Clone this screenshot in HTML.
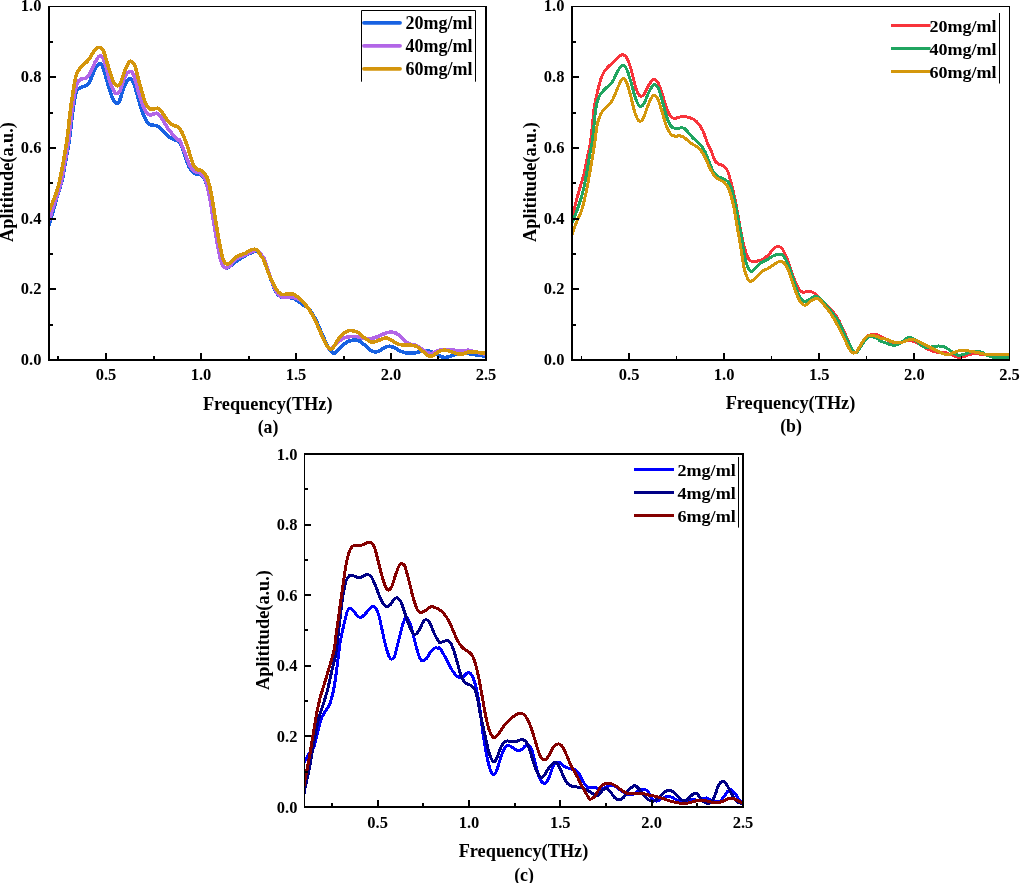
<!DOCTYPE html>
<html><head><meta charset="utf-8"><title>THz spectra</title>
<style>
html,body{margin:0;padding:0;background:#fff;}
body{width:1020px;height:883px;overflow:hidden;}
svg{display:block;}
text{font-family:"Liberation Serif", "DejaVu Serif", serif;font-weight:bold;fill:#000;}
.tk{font-size:16.5px;}
.lg{font-size:18px;}
.ax{font-size:18.3px;}
.sb{font-size:17.8px;}
</style></head><body>
<svg width="1020" height="883" viewBox="0 0 1020 883">
<rect width="1020" height="883" fill="#fff"/>
<defs>
<clipPath id="ca"><rect x="48" y="6" width="438" height="354"/></clipPath>
<clipPath id="cb"><rect x="571" y="6" width="438.5" height="354"/></clipPath>
<clipPath id="cc"><rect x="304" y="453" width="439" height="354"/></clipPath>
</defs>

<g id="plot-a">
<g clip-path="url(#ca)" fill="none" stroke-linejoin="round" stroke-linecap="butt" shape-rendering="crispEdges">
<path d="M47.00 229.00C47.44 228.06 47.97 228.72 49.67 223.33C51.36 217.94 55.08 203.89 57.17 196.67C59.25 189.44 60.78 185.83 62.17 180.00C63.56 174.17 64.31 168.33 65.50 161.67C66.69 155.00 68.17 148.06 69.33 140.00C70.50 131.94 71.42 121.11 72.50 113.33C73.58 105.56 74.72 97.50 75.83 93.33C76.94 89.17 77.64 89.58 79.17 88.33C80.69 87.08 83.33 86.81 85.00 85.83C86.67 84.86 87.50 85.28 89.17 82.50C90.83 79.72 93.25 72.31 95.00 69.17C96.75 66.03 98.28 63.81 99.67 63.67C101.06 63.53 101.75 64.22 103.33 68.33C104.92 72.44 107.50 83.06 109.17 88.33C110.83 93.61 112.14 97.56 113.33 100.00C114.53 102.44 115.36 102.72 116.33 103.00C117.31 103.28 117.86 104.39 119.17 101.67C120.47 98.94 122.64 90.33 124.17 86.67C125.69 83.00 127.22 80.92 128.33 79.67C129.44 78.42 129.86 78.42 130.83 79.17C131.81 79.92 132.78 80.42 134.17 84.17C135.56 87.92 137.50 96.25 139.17 101.67C140.83 107.08 142.50 112.92 144.17 116.67C145.83 120.42 147.50 122.72 149.17 124.17C150.83 125.61 152.64 124.92 154.17 125.33C155.69 125.75 156.81 125.61 158.33 126.67C159.86 127.72 161.53 129.92 163.33 131.67C165.14 133.42 167.22 135.78 169.17 137.17C171.11 138.56 173.19 139.11 175.00 140.00C176.81 140.89 178.47 140.28 180.00 142.50C181.53 144.72 182.64 149.25 184.17 153.33C185.69 157.42 187.50 163.67 189.17 167.00C190.83 170.33 192.50 172.14 194.17 173.33C195.83 174.53 197.42 173.19 199.17 174.17C200.92 175.14 203.00 175.69 204.67 179.17C206.33 182.64 207.72 188.19 209.17 195.00C210.61 201.81 211.94 211.67 213.33 220.00C214.72 228.33 216.11 237.78 217.50 245.00C218.89 252.22 220.28 259.50 221.67 263.33C223.06 267.17 224.44 267.50 225.83 268.00C227.22 268.50 228.33 267.39 230.00 266.33C231.67 265.28 233.33 263.42 235.83 261.67C238.33 259.92 242.36 257.36 245.00 255.83C247.64 254.31 249.67 253.25 251.67 252.50C253.67 251.75 255.11 250.50 257.00 251.33C258.89 252.17 261.72 255.92 263.00 257.50C264.28 259.08 263.42 257.36 264.67 260.83C265.92 264.31 268.56 273.06 270.50 278.33C272.44 283.61 274.53 289.39 276.33 292.50C278.14 295.61 279.06 296.14 281.33 297.00C283.61 297.86 287.72 297.31 290.00 297.67C292.28 298.03 292.78 297.94 295.00 299.17C297.22 300.39 300.97 303.33 303.33 305.00C305.69 306.67 307.08 306.67 309.17 309.17C311.25 311.67 313.61 315.69 315.83 320.00C318.06 324.31 320.42 330.42 322.50 335.00C324.58 339.58 326.53 344.44 328.33 347.50C330.14 350.56 331.67 352.92 333.33 353.33C335.00 353.75 336.39 351.67 338.33 350.00C340.28 348.33 342.78 344.94 345.00 343.33C347.22 341.72 349.44 340.83 351.67 340.33C353.89 339.83 356.94 340.14 358.33 340.33C359.72 340.52 358.81 340.59 360.00 341.47C361.19 342.34 363.66 344.10 365.49 345.59C367.32 347.07 369.26 349.31 370.98 350.39C372.70 351.46 374.18 352.08 375.78 352.04C377.38 351.99 378.87 350.96 380.59 350.12C382.30 349.27 384.48 347.60 386.08 346.96C387.68 346.32 388.59 346.04 390.19 346.27C391.80 346.50 393.85 347.46 395.68 348.33C397.51 349.20 399.12 350.69 401.17 351.49C403.23 352.29 405.75 352.91 408.04 353.13C410.32 353.36 412.61 353.20 414.90 352.86C417.19 352.52 419.93 351.49 421.76 351.08C423.59 350.66 424.28 350.28 425.88 350.39C427.48 350.50 429.54 351.08 431.37 351.76C433.20 352.45 435.03 353.64 436.86 354.51C438.69 355.38 440.75 356.52 442.35 356.98C443.95 357.44 444.87 357.48 446.47 357.25C448.07 357.02 449.90 356.25 451.96 355.61C454.02 354.96 456.30 353.78 458.82 353.41C461.34 353.04 464.54 353.23 467.05 353.41C469.57 353.59 471.63 354.14 473.92 354.51C476.20 354.87 478.49 355.33 480.78 355.61C483.07 355.88 486.50 356.06 487.64 356.15" stroke="#1862e2" stroke-width="3.60"/>
<path d="M47.00 224.00C47.44 223.06 48.06 222.89 49.67 218.33C51.28 213.78 54.67 203.06 56.67 196.67C58.67 190.28 60.28 185.83 61.67 180.00C63.06 174.17 63.83 168.33 65.00 161.67C66.17 155.00 67.56 148.06 68.67 140.00C69.78 131.94 70.61 121.39 71.67 113.33C72.72 105.28 74.03 96.81 75.00 91.67C75.97 86.53 76.53 84.58 77.50 82.50C78.47 80.42 79.44 79.92 80.83 79.17C82.22 78.42 84.31 78.97 85.83 78.00C87.36 77.03 88.33 76.19 90.00 73.33C91.67 70.47 94.17 63.75 95.83 60.83C97.50 57.92 98.61 55.83 100.00 55.83C101.39 55.83 102.50 56.53 104.17 60.83C105.83 65.14 108.33 76.53 110.00 81.67C111.67 86.81 113.06 89.72 114.17 91.67C115.28 93.61 115.69 93.47 116.67 93.33C117.64 93.19 118.61 93.61 120.00 90.83C121.39 88.06 123.47 79.86 125.00 76.67C126.53 73.47 127.78 72.08 129.17 71.67C130.56 71.25 131.81 70.83 133.33 74.17C134.86 77.50 136.67 86.25 138.33 91.67C140.00 97.08 141.81 103.00 143.33 106.67C144.86 110.33 146.25 112.28 147.50 113.67C148.75 115.06 149.31 115.06 150.83 115.00C152.36 114.94 154.86 112.78 156.67 113.33C158.47 113.89 159.72 115.69 161.67 118.33C163.61 120.97 166.39 126.39 168.33 129.17C170.28 131.94 171.67 133.19 173.33 135.00C175.00 136.81 177.22 139.03 178.33 140.00C179.44 140.97 178.89 138.61 180.00 140.83C181.11 143.06 183.33 149.17 185.00 153.33C186.67 157.50 188.33 162.78 190.00 165.83C191.67 168.89 193.33 170.47 195.00 171.67C196.67 172.86 198.33 171.75 200.00 173.00C201.67 174.25 203.47 175.50 205.00 179.17C206.53 182.83 207.78 188.19 209.17 195.00C210.56 201.81 211.94 211.67 213.33 220.00C214.72 228.33 216.11 237.78 217.50 245.00C218.89 252.22 220.28 259.50 221.67 263.33C223.06 267.17 224.44 267.58 225.83 268.00C227.22 268.42 228.33 267.31 230.00 265.83C231.67 264.36 233.33 260.97 235.83 259.17C238.33 257.36 242.36 256.25 245.00 255.00C247.64 253.75 249.58 252.36 251.67 251.67C253.75 250.97 255.56 249.86 257.50 250.83C259.44 251.81 262.08 255.83 263.33 257.50C264.58 259.17 263.75 257.36 265.00 260.83C266.25 264.31 268.89 273.06 270.83 278.33C272.78 283.61 274.86 289.39 276.67 292.50C278.47 295.61 279.44 296.22 281.67 297.00C283.89 297.78 287.50 296.94 290.00 297.17C292.50 297.39 294.72 297.72 296.67 298.33C298.61 298.94 299.72 299.17 301.67 300.83C303.61 302.50 306.11 305.14 308.33 308.33C310.56 311.53 312.78 315.56 315.00 320.00C317.22 324.44 319.58 330.56 321.67 335.00C323.75 339.44 325.97 344.31 327.50 346.67C329.03 349.03 329.31 349.72 330.83 349.17C332.36 348.61 334.58 345.14 336.67 343.33C338.75 341.53 341.11 339.44 343.33 338.33C345.56 337.22 347.78 336.94 350.00 336.67C352.22 336.39 355.00 336.55 356.67 336.67C358.33 336.78 358.30 337.01 360.00 337.35C361.70 337.69 364.57 338.61 366.86 338.72C369.15 338.84 371.44 338.61 373.72 338.04C376.01 337.47 378.30 336.21 380.59 335.29C382.87 334.38 385.39 333.05 387.45 332.55C389.51 332.04 391.11 331.93 392.94 332.27C394.77 332.62 396.60 333.30 398.43 334.61C400.26 335.91 402.09 338.56 403.92 340.10C405.75 341.63 407.35 342.89 409.41 343.80C411.47 344.72 414.21 344.72 416.27 345.59C418.33 346.46 419.93 347.87 421.76 349.02C423.59 350.16 425.65 351.72 427.25 352.45C428.85 353.18 430.00 353.52 431.37 353.41C432.74 353.29 433.89 352.38 435.49 351.76C437.09 351.14 438.92 350.05 440.98 349.70C443.04 349.36 445.32 349.59 447.84 349.70C450.36 349.82 453.33 350.28 456.07 350.39C458.82 350.50 462.02 350.39 464.31 350.39C466.60 350.39 467.97 350.12 469.80 350.39C471.63 350.66 473.46 351.53 475.29 352.04C477.12 352.54 478.72 353.04 480.78 353.41C482.84 353.78 486.50 354.10 487.64 354.23" stroke="#b266e7" stroke-width="3.60"/>
<path d="M47.00 216.00C47.36 215.14 47.56 214.89 49.17 210.83C50.78 206.78 54.72 197.64 56.67 191.67C58.61 185.69 59.72 180.00 60.83 175.00C61.94 170.00 62.31 167.50 63.33 161.67C64.36 155.83 65.89 148.06 67.00 140.00C68.11 131.94 68.94 121.67 70.00 113.33C71.06 105.00 72.36 96.11 73.33 90.00C74.31 83.89 74.94 80.00 75.83 76.67C76.72 73.33 77.42 71.94 78.67 70.00C79.92 68.06 81.72 66.67 83.33 65.00C84.94 63.33 86.39 62.50 88.33 60.00C90.28 57.50 93.19 52.08 95.00 50.00C96.81 47.92 97.78 47.36 99.17 47.50C100.56 47.64 101.81 47.64 103.33 50.83C104.86 54.03 106.67 61.53 108.33 66.67C110.00 71.81 111.94 78.56 113.33 81.67C114.72 84.78 115.56 84.92 116.67 85.33C117.78 85.75 118.61 86.72 120.00 84.17C121.39 81.61 123.47 73.69 125.00 70.00C126.53 66.31 128.11 63.39 129.17 62.00C130.22 60.61 130.36 61.03 131.33 61.67C132.31 62.31 133.56 61.94 135.00 65.83C136.44 69.72 138.33 79.03 140.00 85.00C141.67 90.97 143.47 97.78 145.00 101.67C146.53 105.56 147.78 107.08 149.17 108.33C150.56 109.58 151.94 109.17 153.33 109.17C154.72 109.17 156.11 107.92 157.50 108.33C158.89 108.75 159.86 109.44 161.67 111.67C163.47 113.89 166.39 119.39 168.33 121.67C170.28 123.94 171.81 124.50 173.33 125.33C174.86 126.17 176.11 125.61 177.50 126.67C178.89 127.72 180.00 128.33 181.67 131.67C183.33 135.00 185.69 141.53 187.50 146.67C189.31 151.81 190.97 158.75 192.50 162.50C194.03 166.25 195.14 167.78 196.67 169.17C198.19 170.56 200.00 169.58 201.67 170.83C203.33 172.08 205.14 173.19 206.67 176.67C208.19 180.14 209.44 185.00 210.83 191.67C212.22 198.33 213.61 208.33 215.00 216.67C216.39 225.00 217.78 234.44 219.17 241.67C220.56 248.89 221.94 256.25 223.33 260.00C224.72 263.75 226.11 263.89 227.50 264.17C228.89 264.44 230.14 262.92 231.67 261.67C233.19 260.42 234.44 258.06 236.67 256.67C238.89 255.28 242.50 254.50 245.00 253.33C247.50 252.17 249.72 250.22 251.67 249.67C253.61 249.11 255.00 248.83 256.67 250.00C258.33 251.17 260.56 255.14 261.67 256.67C262.78 258.19 261.94 255.83 263.33 259.17C264.72 262.50 267.78 271.53 270.00 276.67C272.22 281.81 274.72 287.08 276.67 290.00C278.61 292.92 280.00 293.47 281.67 294.17C283.33 294.86 284.72 294.17 286.67 294.17C288.61 294.17 291.11 293.33 293.33 294.17C295.56 295.00 297.50 296.81 300.00 299.17C302.50 301.53 305.83 304.86 308.33 308.33C310.83 311.81 312.78 315.56 315.00 320.00C317.22 324.44 319.58 330.56 321.67 335.00C323.75 339.44 325.89 344.31 327.50 346.67C329.11 349.03 330.08 349.44 331.33 349.17C332.58 348.89 333.56 347.08 335.00 345.00C336.44 342.92 338.06 338.94 340.00 336.67C341.94 334.39 344.44 332.31 346.67 331.33C348.89 330.36 351.25 330.50 353.33 330.83C355.42 331.17 357.14 332.02 359.17 333.33C361.19 334.65 363.29 337.25 365.49 338.72C367.69 340.19 370.06 341.93 372.35 342.15C374.64 342.38 376.93 340.78 379.21 340.10C381.50 339.41 384.02 338.04 386.08 338.04C388.14 338.04 389.74 339.14 391.57 340.10C393.40 341.06 395.23 343.00 397.06 343.80C398.89 344.60 400.49 344.72 402.55 344.90C404.61 345.08 407.12 344.67 409.41 344.90C411.70 345.13 414.21 345.36 416.27 346.27C418.33 347.19 419.93 348.90 421.76 350.39C423.59 351.88 425.65 354.23 427.25 355.19C428.85 356.15 430.00 356.38 431.37 356.15C432.74 355.93 433.89 354.74 435.49 353.82C437.09 352.91 439.15 351.24 440.98 350.66C442.81 350.09 444.64 350.16 446.47 350.39C448.30 350.62 450.13 351.46 451.96 352.04C453.79 352.61 455.62 353.52 457.45 353.82C459.28 354.12 461.11 354.12 462.94 353.82C464.77 353.52 466.37 352.33 468.43 352.04C470.49 351.74 473.23 351.90 475.29 352.04C477.35 352.17 478.72 352.63 480.78 352.86C482.84 353.09 486.50 353.32 487.64 353.41" stroke="#d4950c" stroke-width="3.60"/>
</g>
<g shape-rendering="crispEdges" fill="#000">
<rect x="48" y="6" width="2" height="355"/>
<rect x="485" y="6" width="2" height="355"/>
<rect x="48" y="6" width="439" height="1"/>
<rect x="48" y="359" width="439" height="2"/>
<rect x="50" y="324" width="3" height="2"/>
<rect x="50" y="288" width="6" height="2"/>
<rect x="50" y="253" width="3" height="2"/>
<rect x="50" y="218" width="6" height="2"/>
<rect x="50" y="182" width="3" height="2"/>
<rect x="50" y="147" width="6" height="2"/>
<rect x="50" y="112" width="3" height="2"/>
<rect x="50" y="76" width="6" height="2"/>
<rect x="50" y="41" width="3" height="2"/>
<rect x="105" y="353" width="2" height="6"/>
<rect x="200" y="353" width="2" height="6"/>
<rect x="295" y="353" width="2" height="6"/>
<rect x="390" y="353" width="2" height="6"/>
<rect x="57" y="356" width="2" height="3"/>
<rect x="153" y="356" width="2" height="3"/>
<rect x="248" y="356" width="2" height="3"/>
<rect x="343" y="356" width="2" height="3"/>
<rect x="437" y="356" width="2" height="3"/>
</g>
<text x="41.40" y="364.90" text-anchor="end" class="tk">0.0</text>
<text x="41.40" y="294.20" text-anchor="end" class="tk">0.2</text>
<text x="41.40" y="223.50" text-anchor="end" class="tk">0.4</text>
<text x="41.40" y="152.80" text-anchor="end" class="tk">0.6</text>
<text x="41.40" y="82.10" text-anchor="end" class="tk">0.8</text>
<text x="41.40" y="11.40" text-anchor="end" class="tk">1.0</text>
<text x="106.00" y="380.00" text-anchor="middle" class="tk">0.5</text>
<text x="201.00" y="380.00" text-anchor="middle" class="tk">1.0</text>
<text x="296.00" y="380.00" text-anchor="middle" class="tk">1.5</text>
<text x="391.00" y="380.00" text-anchor="middle" class="tk">2.0</text>
<text x="486.00" y="380.00" text-anchor="middle" class="tk">2.5</text>
<path d="M361.50 81.70L361.50 10.50L475.50 10.50L475.50 81.70" fill="none" stroke="#000" stroke-width="1"/>
<line x1="364.00" y1="22.80" x2="400.00" y2="22.80" stroke="#1862e2" stroke-width="3.80" stroke-linecap="round"/>
<text x="405.50" y="29.00" class="lg">20mg/ml</text>
<line x1="364.00" y1="45.80" x2="400.00" y2="45.80" stroke="#b266e7" stroke-width="3.80" stroke-linecap="round"/>
<text x="405.50" y="52.00" class="lg">40mg/ml</text>
<line x1="364.00" y1="68.80" x2="400.00" y2="68.80" stroke="#d4950c" stroke-width="3.80" stroke-linecap="round"/>
<text x="405.50" y="75.00" class="lg">60mg/ml</text>
<text x="267.7" y="409.7" text-anchor="middle" class="ax">Frequency(THz)</text>
<text x="268" y="432.8" text-anchor="middle" class="sb">(a)</text>
<text transform="translate(13,182) rotate(-90)" text-anchor="middle" class="ax">Aplititude(a.u.)</text>
</g>
<g id="plot-b">
<g clip-path="url(#cb)" fill="none" stroke-linejoin="round" stroke-linecap="butt" shape-rendering="crispEdges">
<path d="M569.50 226.00C570.00 224.31 571.03 221.28 572.50 215.83C573.97 210.39 576.39 200.42 578.33 193.33C580.28 186.25 582.64 179.44 584.17 173.33C585.69 167.22 586.39 162.22 587.50 156.67C588.61 151.11 589.72 148.06 590.83 140.00C591.94 131.94 593.06 116.39 594.17 108.33C595.28 100.28 596.39 96.53 597.50 91.67C598.61 86.81 599.72 82.50 600.83 79.17C601.94 75.83 602.92 73.75 604.17 71.67C605.42 69.58 606.53 68.47 608.33 66.67C610.14 64.86 613.06 62.64 615.00 60.83C616.94 59.03 618.67 56.86 620.00 55.83C621.33 54.81 621.89 54.39 623.00 54.67C624.11 54.94 625.36 55.22 626.67 57.50C627.97 59.78 629.44 63.75 630.83 68.33C632.22 72.92 633.75 80.69 635.00 85.00C636.25 89.31 637.28 92.28 638.33 94.17C639.39 96.06 640.36 96.33 641.33 96.33C642.31 96.33 643.00 95.92 644.17 94.17C645.33 92.42 646.94 88.19 648.33 85.83C649.72 83.47 651.44 81.11 652.50 80.00C653.56 78.89 653.69 78.61 654.67 79.17C655.64 79.72 657.03 80.69 658.33 83.33C659.64 85.97 661.11 90.83 662.50 95.00C663.89 99.17 665.28 104.72 666.67 108.33C668.06 111.94 669.44 115.00 670.83 116.67C672.22 118.33 673.47 118.28 675.00 118.33C676.53 118.39 678.33 117.28 680.00 117.00C681.67 116.72 683.06 116.44 685.00 116.67C686.94 116.89 689.72 117.50 691.67 118.33C693.61 119.17 694.86 119.72 696.67 121.67C698.47 123.61 700.69 126.39 702.50 130.00C704.31 133.61 706.11 140.00 707.50 143.33C708.89 146.67 709.58 147.08 710.83 150.00C712.08 152.92 713.61 158.47 715.00 160.83C716.39 163.19 717.78 163.33 719.17 164.17C720.56 165.00 721.94 164.72 723.33 165.83C724.72 166.94 726.11 167.64 727.50 170.83C728.89 174.03 730.28 179.58 731.67 185.00C733.06 190.42 734.44 196.39 735.83 203.33C737.22 210.28 738.61 219.44 740.00 226.67C741.39 233.89 742.78 241.39 744.17 246.67C745.56 251.94 746.94 255.83 748.33 258.33C749.72 260.83 750.83 261.25 752.50 261.67C754.17 262.08 756.81 261.11 758.33 260.83C759.86 260.56 760.00 260.97 761.67 260.00C763.33 259.03 766.25 256.94 768.33 255.00C770.42 253.06 772.50 249.78 774.17 248.33C775.83 246.89 776.94 246.19 778.33 246.33C779.72 246.47 780.97 246.89 782.50 249.17C784.03 251.44 785.69 255.42 787.50 260.00C789.31 264.58 791.53 271.94 793.33 276.67C795.14 281.39 796.81 285.78 798.33 288.33C799.86 290.89 800.83 291.44 802.50 292.00C804.17 292.56 806.53 291.58 808.33 291.67C810.14 291.75 811.39 291.39 813.33 292.50C815.28 293.61 817.50 295.97 820.00 298.33C822.50 300.69 825.56 303.61 828.33 306.67C831.11 309.72 834.17 312.78 836.67 316.67C839.17 320.56 841.25 325.56 843.33 330.00C845.42 334.44 847.50 339.72 849.17 343.33C850.83 346.94 852.08 350.28 853.33 351.67C854.58 353.06 855.28 353.06 856.67 351.67C858.06 350.28 860.00 345.83 861.67 343.33C863.33 340.83 865.00 338.11 866.67 336.67C868.33 335.22 869.72 334.94 871.67 334.67C873.61 334.39 876.94 334.78 878.33 335.00C879.72 335.22 878.81 335.36 880.00 335.98C881.19 336.60 883.43 337.58 885.49 338.72C887.55 339.87 890.06 342.15 892.35 342.84C894.64 343.53 896.70 343.23 899.21 342.84C901.73 342.45 904.70 340.62 907.45 340.51C910.19 340.39 913.17 341.19 915.68 342.15C918.20 343.12 920.03 344.90 922.55 346.27C925.06 347.64 928.27 349.36 930.78 350.39C933.30 351.42 935.36 352.11 937.64 352.45C939.93 352.79 942.68 352.22 944.51 352.45C946.34 352.68 947.02 353.25 948.62 353.82C950.23 354.39 952.51 355.31 954.11 355.88C955.72 356.45 956.63 357.14 958.23 357.25C959.83 357.37 961.89 357.02 963.72 356.57C965.55 356.11 967.15 354.96 969.21 354.51C971.27 354.05 973.79 353.82 976.07 353.82C978.36 353.82 980.65 354.28 982.94 354.51C985.22 354.74 987.05 355.01 989.80 355.19C992.54 355.38 995.75 355.54 999.41 355.61C1003.07 355.67 1009.70 355.61 1011.76 355.61" stroke="#f8343b" stroke-width="3.00"/>
<path d="M569.50 228.00C570.00 226.94 571.03 225.22 572.50 221.67C573.97 218.11 576.53 211.94 578.33 206.67C580.14 201.39 581.81 196.39 583.33 190.00C584.86 183.61 586.39 174.44 587.50 168.33C588.61 162.22 589.17 158.06 590.00 153.33C590.83 148.61 591.53 147.50 592.50 140.00C593.47 132.50 594.72 115.56 595.83 108.33C596.94 101.11 598.06 99.44 599.17 96.67C600.28 93.89 601.11 93.33 602.50 91.67C603.89 90.00 605.83 88.33 607.50 86.67C609.17 85.00 610.83 84.17 612.50 81.67C614.17 79.17 616.11 74.22 617.50 71.67C618.89 69.11 619.86 67.39 620.83 66.33C621.81 65.28 622.36 64.86 623.33 65.33C624.31 65.81 625.42 66.44 626.67 69.17C627.92 71.89 629.44 77.08 630.83 81.67C632.22 86.25 633.75 92.83 635.00 96.67C636.25 100.50 637.36 103.06 638.33 104.67C639.31 106.28 639.86 106.56 640.83 106.33C641.81 106.11 642.92 105.50 644.17 103.33C645.42 101.17 646.94 96.25 648.33 93.33C649.72 90.42 651.44 87.28 652.50 85.83C653.56 84.39 653.69 84.25 654.67 84.67C655.64 85.08 657.03 85.50 658.33 88.33C659.64 91.17 661.11 96.94 662.50 101.67C663.89 106.39 665.28 112.64 666.67 116.67C668.06 120.69 669.44 123.89 670.83 125.83C672.22 127.78 673.47 127.97 675.00 128.33C676.53 128.69 678.47 128.00 680.00 128.00C681.53 128.00 682.78 127.58 684.17 128.33C685.56 129.08 686.81 130.83 688.33 132.50C689.86 134.17 691.39 136.39 693.33 138.33C695.28 140.28 698.06 141.94 700.00 144.17C701.94 146.39 703.61 149.03 705.00 151.67C706.39 154.31 706.94 156.67 708.33 160.00C709.72 163.33 711.67 168.89 713.33 171.67C715.00 174.44 716.53 175.42 718.33 176.67C720.14 177.92 722.36 178.06 724.17 179.17C725.97 180.28 727.64 180.69 729.17 183.33C730.69 185.97 731.94 189.72 733.33 195.00C734.72 200.28 736.11 207.78 737.50 215.00C738.89 222.22 740.42 231.11 741.67 238.33C742.92 245.56 743.61 252.92 745.00 258.33C746.39 263.75 748.47 269.03 750.00 270.83C751.53 272.64 752.50 270.42 754.17 269.17C755.83 267.92 757.92 264.86 760.00 263.33C762.08 261.81 764.44 261.25 766.67 260.00C768.89 258.75 771.25 256.81 773.33 255.83C775.42 254.86 777.50 254.17 779.17 254.17C780.83 254.17 781.81 254.03 783.33 255.83C784.86 257.64 786.53 260.69 788.33 265.00C790.14 269.31 792.36 276.53 794.17 281.67C795.97 286.81 797.50 292.50 799.17 295.83C800.83 299.17 802.64 300.97 804.17 301.67C805.69 302.36 806.81 300.78 808.33 300.00C809.86 299.22 811.94 297.56 813.33 297.00C814.72 296.44 815.28 296.17 816.67 296.67C818.06 297.17 819.44 297.78 821.67 300.00C823.89 302.22 827.36 306.67 830.00 310.00C832.64 313.33 835.14 316.11 837.50 320.00C839.86 323.89 842.08 329.17 844.17 333.33C846.25 337.50 848.33 341.81 850.00 345.00C851.67 348.19 852.92 351.39 854.17 352.50C855.42 353.61 856.11 353.06 857.50 351.67C858.89 350.28 860.83 346.53 862.50 344.17C864.17 341.81 865.83 338.75 867.50 337.50C869.17 336.25 870.69 336.39 872.50 336.67C874.31 336.94 877.08 338.48 878.33 339.17C879.58 339.85 878.81 340.17 880.00 340.78C881.19 341.39 883.66 342.15 885.49 342.84C887.32 343.53 889.15 344.56 890.98 344.90C892.81 345.24 894.64 345.40 896.47 344.90C898.30 344.40 900.24 342.98 901.96 341.88C903.68 340.78 905.28 339.00 906.76 338.31C908.25 337.63 909.62 337.58 910.88 337.76C912.14 337.95 912.83 338.33 914.31 339.41C915.80 340.48 917.74 342.84 919.80 344.21C921.86 345.59 924.38 347.26 926.66 347.64C928.95 348.03 931.47 346.82 933.53 346.55C935.59 346.27 937.19 345.93 939.02 346.00C940.85 346.07 942.68 346.23 944.51 346.96C946.34 347.69 948.40 349.31 950.00 350.39C951.60 351.46 952.74 352.61 954.11 353.41C955.49 354.21 956.63 355.01 958.23 355.19C959.83 355.38 961.66 355.03 963.72 354.51C965.78 353.98 968.30 352.54 970.58 352.04C972.87 351.53 975.39 351.35 977.45 351.49C979.51 351.63 981.11 352.13 982.94 352.86C984.77 353.59 986.60 355.15 988.43 355.88C990.26 356.61 991.86 357.02 993.92 357.25C995.98 357.48 997.81 357.30 1000.78 357.25C1003.75 357.21 1009.93 357.02 1011.76 356.98" stroke="#20a560" stroke-width="3.00"/>
<path d="M569.50 240.00C570.00 238.89 571.31 236.39 572.50 233.33C573.69 230.28 575.14 225.56 576.67 221.67C578.19 217.78 580.00 215.28 581.67 210.00C583.33 204.72 585.14 197.22 586.67 190.00C588.19 182.78 589.58 173.89 590.83 166.67C592.08 159.44 593.06 153.89 594.17 146.67C595.28 139.44 596.39 128.75 597.50 123.33C598.61 117.92 599.72 116.53 600.83 114.17C601.94 111.81 602.92 110.69 604.17 109.17C605.42 107.64 606.94 106.53 608.33 105.00C609.72 103.47 610.97 102.78 612.50 100.00C614.03 97.22 616.03 91.67 617.50 88.33C618.97 85.00 620.31 81.61 621.33 80.00C622.36 78.39 622.78 78.25 623.67 78.67C624.56 79.08 625.61 80.06 626.67 82.50C627.72 84.94 628.75 88.75 630.00 93.33C631.25 97.92 632.92 105.69 634.17 110.00C635.42 114.31 636.47 117.28 637.50 119.17C638.53 121.06 639.36 121.47 640.33 121.33C641.31 121.19 642.14 120.78 643.33 118.33C644.53 115.89 646.11 110.14 647.50 106.67C648.89 103.19 650.47 99.39 651.67 97.50C652.86 95.61 653.61 95.06 654.67 95.33C655.72 95.61 656.78 96.44 658.00 99.17C659.22 101.89 660.56 107.08 662.00 111.67C663.44 116.25 665.19 122.92 666.67 126.67C668.14 130.42 669.44 132.58 670.83 134.17C672.22 135.75 673.47 135.89 675.00 136.17C676.53 136.44 678.47 135.61 680.00 135.83C681.53 136.06 682.50 136.39 684.17 137.50C685.83 138.61 687.92 140.97 690.00 142.50C692.08 144.03 695.00 145.56 696.67 146.67C698.33 147.78 698.61 147.36 700.00 149.17C701.39 150.97 703.33 154.31 705.00 157.50C706.67 160.69 708.33 165.14 710.00 168.33C711.67 171.53 713.33 174.72 715.00 176.67C716.67 178.61 718.33 178.94 720.00 180.00C721.67 181.06 723.47 181.33 725.00 183.00C726.53 184.67 727.78 186.33 729.17 190.00C730.56 193.67 731.94 198.61 733.33 205.00C734.72 211.39 736.11 220.28 737.50 228.33C738.89 236.39 740.56 246.67 741.67 253.33C742.78 260.00 743.19 264.17 744.17 268.33C745.14 272.50 746.39 276.17 747.50 278.33C748.61 280.50 749.58 281.33 750.83 281.33C752.08 281.33 753.19 279.94 755.00 278.33C756.81 276.72 759.44 273.33 761.67 271.67C763.89 270.00 766.11 269.67 768.33 268.33C770.56 267.00 773.06 264.83 775.00 263.67C776.94 262.50 778.47 261.44 780.00 261.33C781.53 261.22 782.78 261.56 784.17 263.00C785.56 264.44 786.81 266.33 788.33 270.00C789.86 273.67 791.67 280.28 793.33 285.00C795.00 289.72 796.81 295.14 798.33 298.33C799.86 301.53 801.25 303.06 802.50 304.17C803.75 305.28 804.58 305.42 805.83 305.00C807.08 304.58 808.47 302.72 810.00 301.67C811.53 300.61 813.47 299.08 815.00 298.67C816.53 298.25 817.64 298.11 819.17 299.17C820.69 300.22 822.08 302.36 824.17 305.00C826.25 307.64 829.31 311.39 831.67 315.00C834.03 318.61 836.11 322.50 838.33 326.67C840.56 330.83 843.06 336.11 845.00 340.00C846.94 343.89 848.61 347.83 850.00 350.00C851.39 352.17 852.22 352.72 853.33 353.00C854.44 353.28 855.28 353.28 856.67 351.67C858.06 350.06 860.00 345.83 861.67 343.33C863.33 340.83 865.00 338.00 866.67 336.67C868.33 335.33 869.72 335.28 871.67 335.33C873.61 335.39 876.94 336.55 878.33 337.00C879.72 337.45 878.58 337.64 880.00 338.04C881.42 338.44 884.57 338.72 886.86 339.41C889.15 340.10 891.44 341.58 893.72 342.15C896.01 342.73 898.30 343.18 900.59 342.84C902.87 342.50 905.39 340.67 907.45 340.10C909.51 339.52 910.88 339.07 912.94 339.41C915.00 339.75 917.29 341.01 919.80 342.15C922.32 343.30 925.29 344.90 928.04 346.27C930.78 347.64 933.76 349.13 936.27 350.39C938.79 351.65 941.08 353.13 943.13 353.82C945.19 354.51 946.79 354.74 948.62 354.51C950.45 354.28 952.28 353.09 954.11 352.45C955.94 351.81 957.55 350.96 959.60 350.66C961.66 350.37 964.18 350.48 966.47 350.66C968.75 350.85 971.04 351.35 973.33 351.76C975.62 352.17 977.90 352.68 980.19 353.13C982.48 353.59 984.54 354.23 987.05 354.51C989.57 354.78 992.54 354.78 995.29 354.78C998.03 354.78 1000.78 354.55 1003.52 354.51C1006.27 354.46 1010.39 354.51 1011.76 354.51" stroke="#d4970c" stroke-width="3.00"/>
</g>
<g shape-rendering="crispEdges" fill="#000">
<rect x="571" y="6" width="2" height="355"/>
<rect x="1009" y="6" width="1" height="355"/>
<rect x="571" y="6" width="439" height="1"/>
<rect x="571" y="359" width="439" height="2"/>
<rect x="573" y="324" width="3" height="2"/>
<rect x="573" y="288" width="6" height="2"/>
<rect x="573" y="253" width="3" height="2"/>
<rect x="573" y="218" width="6" height="2"/>
<rect x="573" y="182" width="3" height="2"/>
<rect x="573" y="147" width="6" height="2"/>
<rect x="573" y="112" width="3" height="2"/>
<rect x="573" y="76" width="6" height="2"/>
<rect x="573" y="41" width="3" height="2"/>
<rect x="628" y="353" width="2" height="6"/>
<rect x="723" y="353" width="2" height="6"/>
<rect x="818" y="353" width="2" height="6"/>
<rect x="913" y="353" width="2" height="6"/>
<rect x="581" y="356" width="1" height="3"/>
<rect x="676" y="356" width="1" height="3"/>
<rect x="771" y="356" width="1" height="3"/>
<rect x="866" y="356" width="1" height="3"/>
<rect x="961" y="356" width="1" height="3"/>
</g>
<text x="564.40" y="364.90" text-anchor="end" class="tk">0.0</text>
<text x="564.40" y="294.20" text-anchor="end" class="tk">0.2</text>
<text x="564.40" y="223.50" text-anchor="end" class="tk">0.4</text>
<text x="564.40" y="152.80" text-anchor="end" class="tk">0.6</text>
<text x="564.40" y="82.10" text-anchor="end" class="tk">0.8</text>
<text x="564.40" y="11.40" text-anchor="end" class="tk">1.0</text>
<text x="629.07" y="380.00" text-anchor="middle" class="tk">0.5</text>
<text x="724.17" y="380.00" text-anchor="middle" class="tk">1.0</text>
<text x="819.28" y="380.00" text-anchor="middle" class="tk">1.5</text>
<text x="914.39" y="380.00" text-anchor="middle" class="tk">2.0</text>
<text x="1009.50" y="380.00" text-anchor="middle" class="tk">2.5</text>
<line x1="999.50" y1="13.00" x2="999.50" y2="83.50" stroke="#000" stroke-width="1"/>
<line x1="891.00" y1="25.50" x2="930.50" y2="25.50" stroke="#f8343b" stroke-width="3.00" stroke-linecap="butt"/>
<text x="929.40" y="31.50" class="lg" style="font-size:16.4px" textLength="67.2" lengthAdjust="spacingAndGlyphs">20mg/ml</text>
<line x1="891.00" y1="48.50" x2="930.50" y2="48.50" stroke="#20a560" stroke-width="3.00" stroke-linecap="butt"/>
<text x="929.40" y="54.50" class="lg" style="font-size:16.4px" textLength="67.2" lengthAdjust="spacingAndGlyphs">40mg/ml</text>
<line x1="891.00" y1="71.50" x2="930.50" y2="71.50" stroke="#d4970c" stroke-width="3.00" stroke-linecap="butt"/>
<text x="929.40" y="77.50" class="lg" style="font-size:16.4px" textLength="67.2" lengthAdjust="spacingAndGlyphs">60mg/ml</text>
<text x="790.5" y="409.4" text-anchor="middle" class="ax">Frequency(THz)</text>
<text x="791" y="432.3" text-anchor="middle" class="sb">(b)</text>
<text transform="translate(536,182) rotate(-90)" text-anchor="middle" class="ax">Aplititude(a.u.)</text>
</g>
<g id="plot-c">
<g clip-path="url(#cc)" fill="none" stroke-linejoin="round" stroke-linecap="butt" shape-rendering="crispEdges">
<path d="M302.50 764.00C302.86 763.61 303.56 763.44 304.67 761.67C305.78 759.89 307.72 755.56 309.17 753.33C310.61 751.11 312.08 751.11 313.33 748.33C314.58 745.56 315.42 741.39 316.67 736.67C317.92 731.94 319.44 724.17 320.83 720.00C322.22 715.83 323.47 714.44 325.00 711.67C326.53 708.89 328.47 707.50 330.00 703.33C331.53 699.17 332.92 693.33 334.17 686.67C335.42 680.00 336.53 670.56 337.50 663.33C338.47 656.11 338.89 650.00 340.00 643.33C341.11 636.67 342.92 628.75 344.17 623.33C345.42 617.92 346.47 613.33 347.50 610.83C348.53 608.33 349.36 608.33 350.33 608.33C351.31 608.33 352.14 609.58 353.33 610.83C354.53 612.08 356.25 614.72 357.50 615.83C358.75 616.94 359.58 617.78 360.83 617.50C362.08 617.22 363.61 615.56 365.00 614.17C366.39 612.78 367.92 610.47 369.17 609.17C370.42 607.86 371.39 606.47 372.50 606.33C373.61 606.19 374.72 606.61 375.83 608.33C376.94 610.06 378.06 612.78 379.17 616.67C380.28 620.56 381.39 626.67 382.50 631.67C383.61 636.67 384.72 642.50 385.83 646.67C386.94 650.83 388.19 654.58 389.17 656.67C390.14 658.75 390.75 659.31 391.67 659.17C392.58 659.03 393.56 658.75 394.67 655.83C395.78 652.92 397.17 646.25 398.33 641.67C399.50 637.08 400.61 632.08 401.67 628.33C402.72 624.58 403.83 620.97 404.67 619.17C405.50 617.36 405.78 616.81 406.67 617.50C407.56 618.19 408.89 620.42 410.00 623.33C411.11 626.25 412.22 630.83 413.33 635.00C414.44 639.17 415.56 644.44 416.67 648.33C417.78 652.22 419.03 656.25 420.00 658.33C420.97 660.42 421.39 660.83 422.50 660.83C423.61 660.83 425.28 659.86 426.67 658.33C428.06 656.81 429.44 653.39 430.83 651.67C432.22 649.94 433.75 648.56 435.00 648.00C436.25 647.44 437.50 648.28 438.33 648.33C439.17 648.39 438.89 646.94 440.00 648.33C441.11 649.72 443.33 653.61 445.00 656.67C446.67 659.72 448.33 663.75 450.00 666.67C451.67 669.58 453.47 672.36 455.00 674.17C456.53 675.97 457.78 677.08 459.17 677.50C460.56 677.92 462.08 677.36 463.33 676.67C464.58 675.97 465.56 673.94 466.67 673.33C467.78 672.72 468.89 672.17 470.00 673.00C471.11 673.83 472.22 675.50 473.33 678.33C474.44 681.17 475.56 684.72 476.67 690.00C477.78 695.28 479.03 703.33 480.00 710.00C480.97 716.67 481.83 725.03 482.50 730.00C483.17 734.97 483.19 734.97 484.02 739.80C484.84 744.64 486.31 753.76 487.45 759.02C488.59 764.28 489.85 768.74 490.88 771.37C491.91 774.00 492.71 774.80 493.63 774.80C494.54 774.80 495.34 773.77 496.37 771.37C497.40 768.97 498.66 763.82 499.80 760.39C500.95 756.96 502.09 753.18 503.23 750.78C504.38 748.38 505.52 746.78 506.66 745.98C507.81 745.18 508.84 745.52 510.10 745.98C511.35 746.44 512.84 747.97 514.21 748.72C515.59 749.48 517.07 750.39 518.33 750.51C519.59 750.62 520.62 750.16 521.76 749.41C522.91 748.65 524.05 746.66 525.19 745.98C526.34 745.29 527.48 744.49 528.62 745.29C529.77 746.09 530.91 747.58 532.06 750.78C533.20 753.98 534.23 759.93 535.49 764.51C536.75 769.08 538.35 775.14 539.60 778.23C540.86 781.32 542.01 782.24 543.04 783.04C544.07 783.84 544.75 784.07 545.78 783.04C546.81 782.01 547.95 779.72 549.21 776.86C550.47 774.00 552.07 768.28 553.33 765.88C554.59 763.48 555.62 762.95 556.76 762.45C557.90 761.95 558.93 762.17 560.19 762.86C561.45 763.55 562.71 765.61 564.31 766.57C565.91 767.53 567.97 768.05 569.80 768.62C571.63 769.20 573.69 769.08 575.29 770.00C576.89 770.91 578.03 772.06 579.41 774.11C580.78 776.17 582.15 780.18 583.52 782.35C584.90 784.52 586.56 786.24 587.64 787.15C588.72 788.07 588.82 787.86 590.00 787.84C591.18 787.83 593.14 786.67 594.71 787.06C596.27 787.45 597.71 790.07 599.41 790.20C601.11 790.33 603.07 788.63 604.90 787.84C606.73 787.06 608.43 785.62 610.39 785.49C612.35 785.36 614.84 786.14 616.67 787.06C618.50 787.97 619.54 789.80 621.37 790.98C623.20 792.16 625.69 793.59 627.65 794.12C629.61 794.64 631.31 794.64 633.14 794.12C634.97 793.59 636.80 791.76 638.63 790.98C640.46 790.20 642.55 789.28 644.12 789.41C645.69 789.54 646.73 790.20 648.04 791.76C649.35 793.33 650.52 797.25 651.96 798.82C653.40 800.39 655.10 801.18 656.67 801.18C658.24 801.18 659.67 799.61 661.37 798.82C663.07 798.04 665.16 796.73 666.86 796.47C668.56 796.21 670.00 796.73 671.57 797.25C673.14 797.78 674.58 798.82 676.27 799.61C677.97 800.39 679.93 801.70 681.76 801.96C683.59 802.22 685.42 801.57 687.25 801.18C689.08 800.78 690.92 799.74 692.75 799.61C694.58 799.48 696.54 800.52 698.24 800.39C699.93 800.26 701.50 799.22 702.94 798.82C704.38 798.43 705.56 797.78 706.86 798.04C708.17 798.30 709.35 799.74 710.78 800.39C712.22 801.05 713.92 801.83 715.49 801.96C717.06 802.09 718.76 802.09 720.20 801.18C721.63 800.26 722.81 798.17 724.12 796.47C725.42 794.77 726.86 792.08 728.04 790.98C729.22 789.88 730.00 789.49 731.18 789.88C732.35 790.27 733.79 791.71 735.10 793.33C736.41 794.95 737.71 798.04 739.02 799.61C740.33 801.18 741.76 802.01 742.94 802.75C744.12 803.48 745.56 803.79 746.08 804.00" stroke="#0000fe" stroke-width="3.00"/>
<path d="M302.50 803.00C302.86 800.83 303.42 796.33 304.67 790.00C305.92 783.67 308.42 773.33 310.00 765.00C311.58 756.67 312.78 747.50 314.17 740.00C315.56 732.50 316.94 725.56 318.33 720.00C319.72 714.44 320.97 711.67 322.50 706.67C324.03 701.67 325.97 695.83 327.50 690.00C329.03 684.17 330.28 677.78 331.67 671.67C333.06 665.56 334.72 659.72 335.83 653.33C336.94 646.94 337.22 642.50 338.33 633.33C339.44 624.17 341.25 606.94 342.50 598.33C343.75 589.72 344.72 585.42 345.83 581.67C346.94 577.92 348.06 576.89 349.17 575.83C350.28 574.78 351.11 575.06 352.50 575.33C353.89 575.61 355.97 577.22 357.50 577.50C359.03 577.78 360.28 577.47 361.67 577.00C363.06 576.53 364.72 575.06 365.83 574.67C366.94 574.28 367.36 574.19 368.33 574.67C369.31 575.14 370.42 575.50 371.67 577.50C372.92 579.50 374.44 583.33 375.83 586.67C377.22 590.00 378.61 594.44 380.00 597.50C381.39 600.56 382.92 603.47 384.17 605.00C385.42 606.53 386.39 606.81 387.50 606.67C388.61 606.53 389.72 605.42 390.83 604.17C391.94 602.92 393.06 600.19 394.17 599.17C395.28 598.14 396.39 597.58 397.50 598.00C398.61 598.42 399.72 599.53 400.83 601.67C401.94 603.81 402.92 607.22 404.17 610.83C405.42 614.44 406.94 619.72 408.33 623.33C409.72 626.94 411.25 630.69 412.50 632.50C413.75 634.31 414.72 634.58 415.83 634.17C416.94 633.75 417.92 632.08 419.17 630.00C420.42 627.92 422.08 623.39 423.33 621.67C424.58 619.94 425.56 619.39 426.67 619.67C427.78 619.94 428.75 621.06 430.00 623.33C431.25 625.61 432.78 630.42 434.17 633.33C435.56 636.25 437.36 639.31 438.33 640.83C439.31 642.36 439.03 642.42 440.00 642.50C440.97 642.58 442.92 641.69 444.17 641.33C445.42 640.97 446.39 640.00 447.50 640.33C448.61 640.67 449.72 641.44 450.83 643.33C451.94 645.22 453.06 648.33 454.17 651.67C455.28 655.00 456.39 659.44 457.50 663.33C458.61 667.22 459.72 671.94 460.83 675.00C461.94 678.06 463.06 680.14 464.17 681.67C465.28 683.19 466.25 683.47 467.50 684.17C468.75 684.86 470.42 684.86 471.67 685.83C472.92 686.81 474.03 687.92 475.00 690.00C475.97 692.08 476.53 693.89 477.50 698.33C478.47 702.78 479.52 710.21 480.83 716.67C482.15 723.12 484.06 731.14 485.39 737.06C486.72 742.97 487.68 748.27 488.82 752.15C489.97 756.04 491.34 758.79 492.25 760.39C493.17 761.99 493.51 762.22 494.31 761.76C495.11 761.30 496.03 759.93 497.06 757.64C498.09 755.36 499.34 750.55 500.49 748.04C501.63 745.52 502.78 743.74 503.92 742.55C505.06 741.36 506.09 741.01 507.35 740.90C508.61 740.79 510.10 741.70 511.47 741.86C512.84 742.02 514.21 742.16 515.59 741.86C516.96 741.56 518.45 740.42 519.70 740.08C520.96 739.73 521.99 739.39 523.13 739.80C524.28 740.21 525.42 740.72 526.57 742.55C527.71 744.38 528.74 747.12 530.00 750.78C531.26 754.44 532.74 760.62 534.11 764.51C535.49 768.40 536.97 771.94 538.23 774.11C539.49 776.29 540.52 777.55 541.66 777.55C542.81 777.55 543.84 775.83 545.09 774.11C546.35 772.40 547.84 769.08 549.21 767.25C550.58 765.42 552.19 763.87 553.33 763.13C554.47 762.40 555.05 762.17 556.07 762.86C557.10 763.55 558.25 764.92 559.51 767.25C560.76 769.59 562.25 774.11 563.62 776.86C565.00 779.60 566.25 782.12 567.74 783.72C569.23 785.32 570.83 785.90 572.54 786.47C574.26 787.04 576.20 786.81 578.03 787.15C579.86 787.50 581.69 787.84 583.52 788.53C585.35 789.21 587.15 790.21 589.01 791.27C590.88 792.33 593.10 794.30 594.71 794.90C596.31 795.51 597.32 795.69 598.63 794.90C599.93 794.12 601.24 791.29 602.55 790.20C603.86 789.10 605.16 788.05 606.47 788.31C607.78 788.58 608.95 790.14 610.39 791.76C611.83 793.39 613.53 796.73 615.10 798.04C616.67 799.35 618.37 799.74 619.80 799.61C621.24 799.48 622.29 798.82 623.73 797.25C625.16 795.69 626.86 792.03 628.43 790.20C630.00 788.37 631.96 787.01 633.14 786.27C634.31 785.54 634.44 785.28 635.49 785.80C636.54 786.33 637.97 787.76 639.41 789.41C640.85 791.06 642.42 793.86 644.12 795.69C645.82 797.52 647.91 799.53 649.61 800.39C651.31 801.25 652.75 801.39 654.31 800.86C655.88 800.34 657.45 798.64 659.02 797.25C660.59 795.87 662.16 793.67 663.73 792.55C665.29 791.42 666.99 790.69 668.43 790.51C669.87 790.33 670.92 790.59 672.35 791.45C673.79 792.31 675.36 794.20 677.06 795.69C678.76 797.18 680.98 799.61 682.55 800.39C684.12 801.18 685.16 801.05 686.47 800.39C687.78 799.74 689.08 797.65 690.39 796.47C691.70 795.29 693.14 793.73 694.31 793.33C695.49 792.94 696.27 793.07 697.45 794.12C698.63 795.16 700.07 798.17 701.37 799.61C702.68 801.05 703.86 802.22 705.29 802.75C706.73 803.27 708.56 803.53 710.00 802.75C711.44 801.96 712.61 800.65 713.92 798.04C715.23 795.42 716.67 789.73 717.84 787.06C719.02 784.39 719.93 782.95 720.98 782.04C722.03 781.12 723.07 780.99 724.12 781.57C725.16 782.14 726.08 783.53 727.25 785.49C728.43 787.45 729.87 790.98 731.18 793.33C732.48 795.69 733.79 798.04 735.10 799.61C736.41 801.18 737.71 802.09 739.02 802.75C740.33 803.40 741.76 803.32 742.94 803.53C744.12 803.74 745.56 803.92 746.08 804.00" stroke="#000086" stroke-width="3.00"/>
<path d="M302.50 795.00C302.86 792.78 303.56 787.78 304.67 781.67C305.78 775.56 307.72 766.39 309.17 758.33C310.61 750.28 312.08 740.83 313.33 733.33C314.58 725.83 315.56 719.17 316.67 713.33C317.78 707.50 318.61 703.61 320.00 698.33C321.39 693.06 323.33 687.22 325.00 681.67C326.67 676.11 328.47 670.28 330.00 665.00C331.53 659.72 333.19 654.72 334.17 650.00C335.14 645.28 334.86 643.89 335.83 636.67C336.81 629.44 338.61 616.67 340.00 606.67C341.39 596.67 342.92 584.86 344.17 576.67C345.42 568.47 346.39 562.22 347.50 557.50C348.61 552.78 349.72 550.36 350.83 548.33C351.94 546.31 352.78 545.83 354.17 545.33C355.56 544.83 357.64 545.44 359.17 545.33C360.69 545.22 361.94 545.14 363.33 544.67C364.72 544.19 366.25 542.86 367.50 542.50C368.75 542.14 369.72 541.81 370.83 542.50C371.94 543.19 373.06 544.03 374.17 546.67C375.28 549.31 376.25 553.61 377.50 558.33C378.75 563.06 380.28 570.14 381.67 575.00C383.06 579.86 384.67 585.00 385.83 587.50C387.00 590.00 387.69 590.14 388.67 590.00C389.64 589.86 390.61 588.89 391.67 586.67C392.72 584.44 393.83 580.00 395.00 576.67C396.17 573.33 397.56 568.83 398.67 566.67C399.78 564.50 400.61 563.67 401.67 563.67C402.72 563.67 403.75 563.67 405.00 566.67C406.25 569.67 407.78 576.39 409.17 581.67C410.56 586.94 411.94 593.61 413.33 598.33C414.72 603.06 416.25 607.64 417.50 610.00C418.75 612.36 419.58 612.36 420.83 612.50C422.08 612.64 423.61 611.67 425.00 610.83C426.39 610.00 427.92 608.19 429.17 607.50C430.42 606.81 431.25 606.53 432.50 606.67C433.75 606.81 435.42 607.78 436.67 608.33C437.92 608.89 438.61 608.89 440.00 610.00C441.39 611.11 443.33 612.78 445.00 615.00C446.67 617.22 448.33 620.00 450.00 623.33C451.67 626.67 453.47 631.67 455.00 635.00C456.53 638.33 457.78 641.11 459.17 643.33C460.56 645.56 461.81 646.94 463.33 648.33C464.86 649.72 466.81 650.42 468.33 651.67C469.86 652.92 471.25 653.61 472.50 655.83C473.75 658.06 474.72 660.97 475.83 665.00C476.94 669.03 478.06 674.44 479.17 680.00C480.28 685.56 481.39 692.22 482.50 698.33C483.61 704.44 484.72 711.39 485.83 716.67C486.94 721.94 488.06 726.67 489.17 730.00C490.28 733.33 491.53 735.42 492.50 736.67C493.47 737.92 494.03 737.92 495.00 737.50C495.97 737.08 496.94 735.97 498.33 734.17C499.72 732.36 501.67 728.89 503.33 726.67C505.00 724.44 506.67 722.50 508.33 720.83C510.00 719.17 511.67 717.86 513.33 716.67C515.00 715.47 516.81 714.17 518.33 713.67C519.86 713.17 521.25 713.17 522.50 713.67C523.75 714.17 524.58 714.78 525.83 716.67C527.08 718.56 528.62 721.60 530.00 725.00C531.38 728.40 532.74 732.76 534.11 737.06C535.49 741.35 536.97 747.24 538.23 750.78C539.49 754.33 540.52 756.84 541.66 758.33C542.81 759.82 543.95 760.05 545.09 759.70C546.24 759.36 547.27 758.22 548.53 756.27C549.78 754.33 551.39 749.98 552.64 748.04C553.90 746.09 554.93 745.25 556.07 744.61C557.22 743.97 558.36 743.74 559.51 744.19C560.65 744.65 561.68 745.34 562.94 747.35C564.20 749.36 565.68 753.18 567.05 756.27C568.43 759.36 569.57 762.68 571.17 765.88C572.77 769.08 574.83 772.06 576.66 775.49C578.49 778.92 580.32 783.04 582.15 786.47C583.98 789.90 586.33 793.94 587.64 796.07C588.95 798.21 588.82 799.23 590.00 799.29C591.18 799.36 593.14 798.25 594.71 796.47C596.27 794.69 597.84 790.72 599.41 788.63C600.98 786.54 602.55 784.84 604.12 783.92C605.69 783.01 607.25 783.01 608.82 783.14C610.39 783.27 611.96 783.92 613.53 784.71C615.10 785.49 616.54 786.67 618.24 787.84C619.93 789.02 621.90 790.80 623.73 791.76C625.56 792.73 627.25 793.39 629.22 793.65C631.18 793.91 633.40 793.39 635.49 793.33C637.58 793.28 639.67 793.07 641.76 793.33C643.86 793.59 645.69 794.38 648.04 794.90C650.39 795.42 653.27 795.82 655.88 796.47C658.50 797.12 661.11 797.99 663.73 798.82C666.34 799.66 668.95 800.78 671.57 801.49C674.18 802.20 677.06 802.72 679.41 803.06C681.76 803.40 683.59 803.71 685.69 803.53C687.78 803.35 689.87 802.48 691.96 801.96C694.05 801.44 696.14 800.65 698.24 800.39C700.33 800.13 702.42 800.13 704.51 800.39C706.60 800.65 708.69 801.57 710.78 801.96C712.88 802.35 714.97 802.88 717.06 802.75C719.15 802.61 721.50 801.83 723.33 801.18C725.16 800.52 726.47 799.29 728.04 798.82C729.61 798.35 731.18 798.09 732.75 798.35C734.31 798.61 735.88 799.66 737.45 800.39C739.02 801.12 740.85 802.14 742.16 802.75C743.46 803.35 744.77 803.79 745.29 804.00" stroke="#840000" stroke-width="3.00"/>
</g>
<g shape-rendering="crispEdges" fill="#000">
<rect x="304" y="453" width="1" height="355"/>
<rect x="742" y="453" width="2" height="355"/>
<rect x="304" y="453" width="440" height="2"/>
<rect x="304" y="806" width="440" height="2"/>
<rect x="305" y="771" width="3" height="2"/>
<rect x="305" y="735" width="6" height="2"/>
<rect x="305" y="700" width="3" height="2"/>
<rect x="305" y="665" width="6" height="2"/>
<rect x="305" y="629" width="3" height="2"/>
<rect x="305" y="594" width="6" height="2"/>
<rect x="305" y="559" width="3" height="2"/>
<rect x="305" y="524" width="6" height="2"/>
<rect x="305" y="488" width="3" height="2"/>
<rect x="377" y="800" width="2" height="6"/>
<rect x="468" y="800" width="2" height="6"/>
<rect x="559" y="800" width="2" height="6"/>
<rect x="651" y="800" width="2" height="6"/>
<rect x="331" y="803" width="2" height="3"/>
<rect x="422" y="803" width="2" height="3"/>
<rect x="514" y="803" width="2" height="3"/>
<rect x="605" y="803" width="2" height="3"/>
<rect x="696" y="803" width="2" height="3"/>
</g>
<text x="297.40" y="812.50" text-anchor="end" class="tk">0.0</text>
<text x="297.40" y="741.90" text-anchor="end" class="tk">0.2</text>
<text x="297.40" y="671.30" text-anchor="end" class="tk">0.4</text>
<text x="297.40" y="600.70" text-anchor="end" class="tk">0.6</text>
<text x="297.40" y="530.10" text-anchor="end" class="tk">0.8</text>
<text x="297.40" y="459.50" text-anchor="end" class="tk">1.0</text>
<text x="377.58" y="827.60" text-anchor="middle" class="tk">0.5</text>
<text x="468.94" y="827.60" text-anchor="middle" class="tk">1.0</text>
<text x="560.29" y="827.60" text-anchor="middle" class="tk">1.5</text>
<text x="651.65" y="827.60" text-anchor="middle" class="tk">2.0</text>
<text x="743.00" y="827.60" text-anchor="middle" class="tk">2.5</text>
<line x1="738.50" y1="457.00" x2="738.50" y2="527.60" stroke="#000" stroke-width="1"/>
<line x1="634.00" y1="469.50" x2="674.00" y2="469.50" stroke="#0000fe" stroke-width="3.00" stroke-linecap="butt"/>
<text x="677.40" y="476.10" class="lg" style="font-size:17px" textLength="58.4" lengthAdjust="spacingAndGlyphs">2mg/ml</text>
<line x1="634.00" y1="492.50" x2="674.00" y2="492.50" stroke="#000086" stroke-width="3.00" stroke-linecap="butt"/>
<text x="677.40" y="499.10" class="lg" style="font-size:17px" textLength="58.4" lengthAdjust="spacingAndGlyphs">4mg/ml</text>
<line x1="634.00" y1="515.50" x2="674.00" y2="515.50" stroke="#840000" stroke-width="3.00" stroke-linecap="butt"/>
<text x="677.40" y="522.10" class="lg" style="font-size:17px" textLength="58.4" lengthAdjust="spacingAndGlyphs">6mg/ml</text>
<text x="523.5" y="857.3" text-anchor="middle" class="ax">Frequency(THz)</text>
<text x="524" y="880.8" text-anchor="middle" class="sb">(c)</text>
<text transform="translate(269,630) rotate(-90)" text-anchor="middle" class="ax">Aplititude(a.u.)</text>
</g>
</svg></body></html>
